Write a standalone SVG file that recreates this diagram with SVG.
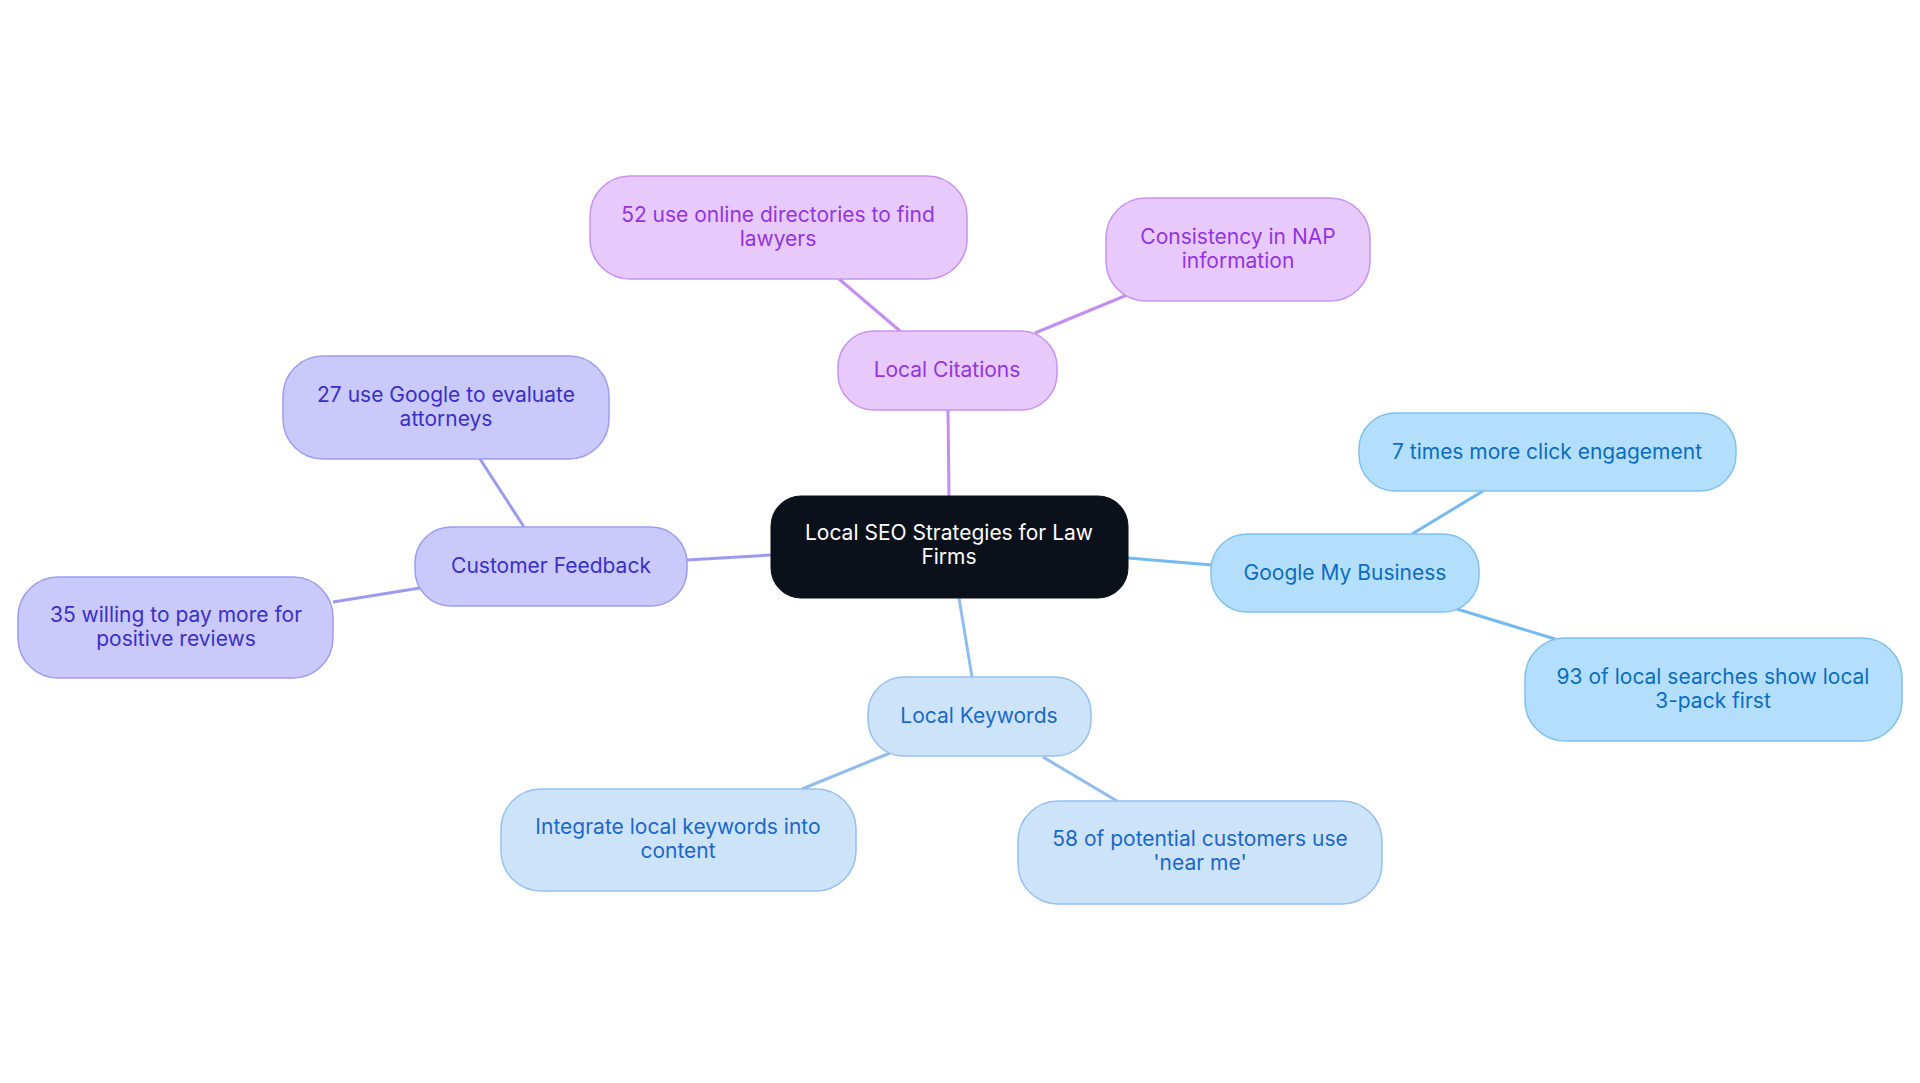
<svg xmlns="http://www.w3.org/2000/svg" width="1920" height="1083" viewBox="0 0 1920 1083">
<style>
text{font-family:Inter,"Noto Sans","Liberation Sans",sans-serif;font-size:21px;text-anchor:middle}
.c rect{fill:#0b111a;stroke:#0b111a}.c text{fill:#fff}
.p rect{fill:#e8c9fc;stroke:#c992f2;stroke-width:1.5}.p text{fill:#9334e0}
.i rect{fill:#c9c9fc;stroke:#9d9cf0;stroke-width:1.5}.i text{fill:#3b2fc6}
.b rect{fill:#b4dffc;stroke:#7fc0f0;stroke-width:1.5}.b text{fill:#0b6cc0}
.l rect{fill:#cde3fa;stroke:#95c0f0;stroke-width:1.5}.l text{fill:#1a68c8}
.e line{stroke-width:3}
</style>
<g id="edges" class="e">
<line x1="949" y1="496" x2="948" y2="410" stroke="#c48ef0"/>
<line x1="900" y1="331" x2="839" y2="279" stroke="#c48ef0"/>
<line x1="1035" y1="333" x2="1127" y2="295" stroke="#c48ef0"/>
<line x1="771" y1="555" x2="687" y2="560" stroke="#9a9af0"/>
<line x1="524" y1="527" x2="480" y2="459" stroke="#9a9af0"/>
<line x1="420" y1="588" x2="333" y2="602" stroke="#9a9af0"/>
<line x1="1128" y1="558" x2="1212" y2="565" stroke="#74baf0"/>
<line x1="1412" y1="534" x2="1483" y2="491" stroke="#74baf0"/>
<line x1="1457" y1="609" x2="1555" y2="639" stroke="#74baf0"/>
<line x1="959" y1="598" x2="972" y2="677" stroke="#90bdee"/>
<line x1="890" y1="753" x2="802" y2="789" stroke="#90bdee"/>
<line x1="1043" y1="757" x2="1117" y2="801" stroke="#90bdee"/>
</g>
<g id="center" class="c"><rect x="771" y="496" width="357" height="102" rx="30"/><text x="949" y="540">Local SEO Strategies for Law</text><text x="949" y="564">Firms</text></g>
<g id="citations" class="p"><rect x="838" y="331" width="219" height="79" rx="36"/><text x="947" y="377">Local Citations</text></g>
<g id="directories" class="p"><rect x="590" y="176" width="377" height="103" rx="40"/><text x="778" y="222">52 use online directories to find</text><text x="778" y="246">lawyers</text></g>
<g id="nap" class="p"><rect x="1106" y="198" width="264" height="103" rx="40"/><text x="1238" y="244">Consistency in NAP</text><text x="1238" y="268">information</text></g>
<g id="feedback" class="i"><rect x="415" y="527" width="272" height="79" rx="36"/><text x="551" y="573">Customer Feedback</text></g>
<g id="google-eval" class="i"><rect x="283" y="356" width="326" height="103" rx="40"/><text x="446" y="402">27 use Google to evaluate</text><text x="446" y="426">attorneys</text></g>
<g id="pay-more" class="i"><rect x="18" y="577" width="315" height="101" rx="40"/><text x="176" y="622">35 willing to pay more for</text><text x="176" y="646">positive reviews</text></g>
<g id="gmb" class="b"><rect x="1211" y="534" width="268" height="78" rx="36"/><text x="1345" y="580">Google My Business</text></g>
<g id="clicks" class="b"><rect x="1359" y="413" width="377" height="78" rx="36"/><text x="1547" y="459">7 times more click engagement</text></g>
<g id="threepack" class="b"><rect x="1525" y="638" width="377" height="103" rx="40"/><text x="1713" y="684">93 of local searches show local</text><text x="1713" y="708">3-pack first</text></g>
<g id="keywords" class="l"><rect x="868" y="677" width="223" height="79" rx="36"/><text x="979" y="723">Local Keywords</text></g>
<g id="integrate" class="l"><rect x="501" y="789" width="355" height="102" rx="40"/><text x="678" y="834">Integrate local keywords into</text><text x="678" y="858">content</text></g>
<g id="near-me" class="l"><rect x="1018" y="801" width="364" height="103" rx="40"/><text x="1200" y="846">58 of potential customers use</text><text x="1200" y="870">'near me'</text></g>
</svg>
